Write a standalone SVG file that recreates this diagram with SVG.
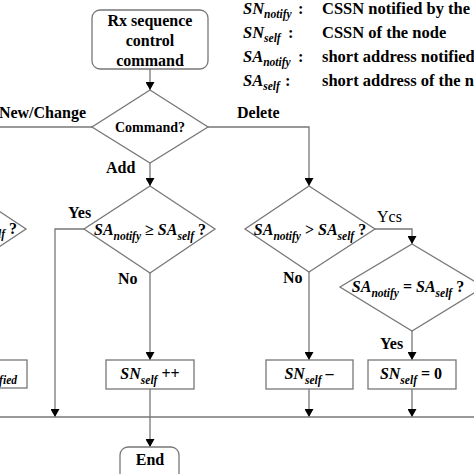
<svg xmlns="http://www.w3.org/2000/svg" width="474" height="474" viewBox="0 0 474 474">
<style>
  .shape { fill: #ffffff; stroke: #777777; stroke-width: 1.3; }
  .line { fill: none; stroke: #777777; stroke-width: 1.3; }
  .t { font-family: "Liberation Serif", "Times New Roman", serif; font-weight: bold; font-size: 16px; fill: #000; }
  .lg { font-size: 16.5px; }
  .m { font-style: italic; }
  .sub { font-size: 11.5px; font-style: italic; }
  .lbl { font-family: "Liberation Serif", "Times New Roman", serif; font-weight: bold; font-size: 16px; fill: #000; }
  .thin { font-weight: normal; }
</style>
<defs>
  <marker id="arr" markerWidth="9" markerHeight="9" refX="8" refY="4.5" orient="auto" markerUnits="userSpaceOnUse">
    <path d="M0,0 L8,4.5 L0,9 Z" fill="#000"/>
  </marker>
</defs>

<g id="legend">
  <text class="t lg" x="243" y="14"><tspan class="m">SN</tspan><tspan class="sub" dy="4">notify</tspan></text>
  <text class="t lg" x="298" y="14">:</text>
  <text class="t lg" x="322" y="14">CSSN notified by the</text>
  <text class="t lg" x="243" y="38"><tspan class="m">SN</tspan><tspan class="sub" dy="4">self</tspan></text>
  <text class="t lg" x="288" y="38">:</text>
  <text class="t lg" x="322" y="38">CSSN of the node</text>
  <text class="t lg" x="243" y="62"><tspan class="m">SA</tspan><tspan class="sub" dy="4">notify</tspan></text>
  <text class="t lg" x="298" y="62">:</text>
  <text class="t lg" x="322" y="62">short address notified</text>
  <text class="t lg" x="243" y="86"><tspan class="m">SA</tspan><tspan class="sub" dy="4">self</tspan></text>
  <text class="t lg" x="285" y="86">:</text>
  <text class="t lg" x="322" y="86">short address of the n</text>
</g>

<g id="connectors">
  <line class="line" x1="150" y1="69" x2="150" y2="90" marker-end="url(#arr)"/>
  <line class="line" x1="92" y1="127" x2="0" y2="127"/>
  <polyline class="line" points="208,127 309,127 309,186" marker-end="url(#arr)"/>
  <line class="line" x1="150" y1="163" x2="150" y2="186" marker-end="url(#arr)"/>
  <polyline class="line" points="84,229 55,229 55,417" marker-end="url(#arr)"/>
  <line class="line" x1="150" y1="273" x2="150" y2="360" marker-end="url(#arr)"/>
  <line class="line" x1="150" y1="389" x2="150" y2="447" marker-end="url(#arr)"/>
  <line class="line" x1="309" y1="272" x2="309" y2="360" marker-end="url(#arr)"/>
  <polyline class="line" points="375,229 412,229 412,244" marker-end="url(#arr)"/>
  <line class="line" x1="412" y1="331" x2="412" y2="360" marker-end="url(#arr)"/>
  <line class="line" x1="309" y1="389" x2="309" y2="417" marker-end="url(#arr)"/>
  <line class="line" x1="412" y1="389" x2="412" y2="417" marker-end="url(#arr)"/>
  <line class="line" x1="0" y1="417" x2="474" y2="417"/>
  <text class="lbl" x="86" y="118" text-anchor="end">New/Change</text>
  <text class="lbl" x="237" y="118">Delete</text>
  <text class="lbl" x="106" y="173">Add</text>
  <text class="lbl" x="68" y="218">Yes</text>
  <text class="lbl" x="118" y="284">No</text>
  <text class="lbl" x="283" y="283">No</text>
  <text class="lbl thin" x="377" y="222">Ycs</text>
  <text class="lbl" x="380" y="349">Yes</text>
</g>

<g id="start">
  <rect class="shape" x="92" y="10" width="116" height="59" rx="8"/>
  <text class="t" x="150" y="26" text-anchor="middle">Rx sequence</text>
  <text class="t" x="150" y="46" text-anchor="middle">control</text>
  <text class="t" x="150" y="66" text-anchor="middle">command</text>
</g>

<g id="command">
  <polygon class="shape" points="150,90 208,127 150,163 92,127"/>
  <text class="t" x="150" y="132" text-anchor="middle" style="font-size:14px">Command?</text>
</g>

<g id="left-decision">
  <polygon class="shape" points="-39,186 26,229 -39,272 -104,229"/>
  <text class="t" x="17" y="234" text-anchor="end"><tspan class="m">SN</tspan><tspan class="sub" dy="4">notify</tspan><tspan dy="-4"> &gt; </tspan><tspan class="m">SN</tspan><tspan class="sub" dy="4">self</tspan><tspan dy="-4"> ?</tspan></text>
</g>

<g id="left-box">
  <rect class="shape" x="-70" y="360" width="97" height="28"/>
  <text class="t" x="17" y="380" text-anchor="end"><tspan class="m">SN</tspan><tspan class="sub" dy="4">self</tspan><tspan dy="-4"> = </tspan><tspan class="m">SN</tspan><tspan class="sub" dy="4">notified</tspan></text>
</g>

<g id="add-decision">
  <polygon class="shape" points="150,186 215,229 150,273 84,229"/>
  <text class="t" x="150" y="235" text-anchor="middle"><tspan class="m">SA</tspan><tspan class="sub" dy="5">notify</tspan><tspan dy="-5"> ≥ </tspan><tspan class="m">SA</tspan><tspan class="sub" dy="5">self</tspan><tspan dy="-5"> ?</tspan></text>
</g>

<g id="delete-decision">
  <polygon class="shape" points="309,186 375,229 309,272 245,229"/>
  <text class="t" x="310" y="235" text-anchor="middle"><tspan class="m">SA</tspan><tspan class="sub" dy="5">notify</tspan><tspan dy="-5"> &gt; </tspan><tspan class="m">SA</tspan><tspan class="sub" dy="5">self</tspan><tspan dy="-5"> ?</tspan></text>
</g>

<g id="equal-decision">
  <polygon class="shape" points="412,244 484,287 412,331 340,287"/>
  <text class="t" x="408" y="292" text-anchor="middle"><tspan class="m">SA</tspan><tspan class="sub" dy="5">notify</tspan><tspan dy="-5"> = </tspan><tspan class="m">SA</tspan><tspan class="sub" dy="5">self</tspan><tspan dy="-5"> ?</tspan></text>
</g>

<g id="inc-box">
  <rect class="shape" x="106" y="360" width="88" height="29"/>
  <text class="t" x="150" y="379" text-anchor="middle"><tspan class="m">SN</tspan><tspan class="sub" dy="5">self</tspan><tspan dy="-5"> ++</tspan></text>
</g>

<g id="dec-box">
  <rect class="shape" x="266" y="360" width="87" height="29"/>
  <text class="t" x="309" y="379" text-anchor="middle"><tspan class="m">SN</tspan><tspan class="sub" dy="5">self</tspan><tspan dy="-5"> –</tspan></text>
</g>

<g id="zero-box">
  <rect class="shape" x="368" y="360" width="88" height="29"/>
  <text class="t" x="411" y="379" text-anchor="middle"><tspan class="m">SN</tspan><tspan class="sub" dy="5">self</tspan><tspan dy="-5"> = 0</tspan></text>
</g>

<g id="end">
  <rect class="shape" x="120" y="447" width="59" height="40" rx="8"/>
  <text class="t" x="150" y="465" text-anchor="middle">End</text>
</g>
</svg>
